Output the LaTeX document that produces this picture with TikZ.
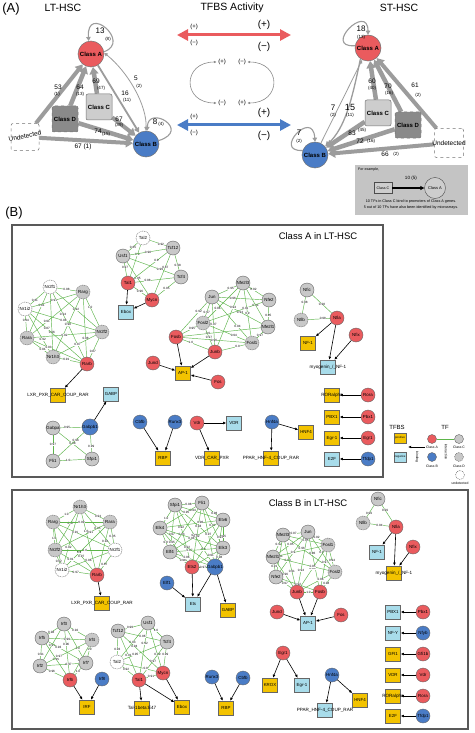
\documentclass[tikz,border=0pt]{standalone}
\usepackage{fontspec}
\setmainfont{Liberation Sans}
\usetikzlibrary{arrows.meta}
\pgfdeclarelayer{bglayer}
\pgfdeclarelayer{edgelayer}
\pgfsetlayers{bglayer,edgelayer,main}
\definecolor{cRed}{HTML}{EA5B5E}
\definecolor{cBlue}{HTML}{4A7CC6}
\definecolor{cGray}{HTML}{C8C8C8}
\definecolor{cLight}{HTML}{CDCDCD}
\definecolor{cDark}{HTML}{8A8A8A}
\definecolor{cYel}{HTML}{F3C300}
\definecolor{cLBlue}{HTML}{A8DCEA}
\definecolor{cGreen}{HTML}{5DB54A}
\definecolor{cArr}{HTML}{9C9C9C}
\definecolor{cExBg}{HTML}{C4C4C4}
\newcommand{\myfs}[1]{\fontsize{#1}{#1}\selectfont}
\begin{document}
\begin{tikzpicture}[x=1pt,y=-1pt,
  base/.style={circle, minimum size=14pt, inner sep=0pt, font=\myfs{4.4}, draw=black!60, line width=0.4pt},
  ca/.style={base, fill=cRed},
  cb/.style={base, fill=cBlue},
  cc/.style={base, fill=cGray},
  cd/.style={base, fill=cGray, dash pattern=on 1pt off 0.8pt},
  cu/.style={base, fill=white, dash pattern=on 1pt off 0.8pt},
  boxbase/.style={rectangle, minimum width=15pt, minimum height=14pt, inner sep=0pt, font=\myfs{4.4}, draw=black!60, line width=0.4pt},
  tp/.style={boxbase, fill=cYel},
  tn/.style={boxbase, fill=cLBlue},
  ppi/.style={draw=cGreen, line width=0.45pt},
  wl/.style={font=\myfs{3.1}, inner sep=0.15pt, fill=white},
  bind/.style={-{Latex[length=3.2pt,width=2.8pt]}, line width=0.6pt, black},
  lbl/.style={font=\myfs{4.6}, inner sep=0pt},
  clsA/.style={circle, minimum size=26pt, inner sep=0pt, draw=black!55, line width=0.5pt, font=\bfseries\myfs{6}, fill=cRed},
  clsB/.style={clsA, fill=cBlue},
  clsbox/.style={rectangle, rounded corners=2pt, minimum size=26pt, inner sep=0pt, draw=black!55, line width=0.5pt, font=\bfseries\myfs{6}},
  garr/.style={draw=cArr, -{Triangle[length=7pt,width=9pt]}},
  garr2/.style={draw=cArr, -{Triangle[length=5pt,width=5.5pt]}},
  gthin/.style={draw=cArr, line width=0.8pt},
  gloop/.style={draw=cArr, line width=1.1pt, -{Triangle[length=4pt,width=4.5pt]}},
  nl/.style={font=\myfs{6.5}, inner sep=0pt},
  nlb/.style={font=\myfs{8}, inner sep=0pt},
  pl/.style={font=\myfs{4.5}, inner sep=0pt},
  sp/.style={font=\myfs{6}, inner sep=0.5pt},
  bp/.style={font=\myfs{10}, inner sep=0pt},
  panel/.style={draw=black!65, line width=1.1pt},
  arcst/.style={draw=black!45, line width=0.6pt, {Latex[length=2.5pt,width=2.5pt]}-{Latex[length=2.5pt,width=2.5pt]}, shorten <=1pt, shorten >=1pt},
  dbl/.style={line width=3pt, {Triangle[length=11pt,width=11pt]}-{Triangle[length=11pt,width=11pt]}},
  lgc/.style={circle, minimum size=9pt, inner sep=0pt, draw=black!60, line width=0.4pt},
  lgt/.style={font=\myfs{3.4}, inner sep=0pt}
]
\begin{pgfonlayer}{bglayer}
\fill[white] (0,0) rectangle (474,733);
\end{pgfonlayer}
\useasboundingbox (0,0) rectangle (474,733);

% ---------------- Part A titles
\node[font=\myfs{13}] (tA) at (11,9) {(A)};
\node[font=\myfs{10.5}] (tLT) at (63,8) {LT-HSC};
\node[font=\myfs{10.5}] (tTF) at (232,8) {TFBS Activity};
\node[font=\myfs{10.5}] (tST) at (399,8) {ST-HSC};

% ---------------- LT-HSC
\node[clsA] (LA) at (91,54) {Class A};
\node[clsB] (LB) at (146,144) {Class B};
\node[clsbox, fill=cLight] (LC) at (99,107) {Class C};
\node[clsbox, fill=cDark, dashed] (LD) at (65,119) {Class D};
\node[clsbox, fill=white, dashed, minimum width=28pt, minimum height=27pt] (LU) at (25,137) {};
\node[font=\myfs{6.5}, rotate=12] (LUt) at (25,136) {Undetected};

\begin{pgfonlayer}{edgelayer}
\draw[garr, line width=4pt] (LU) -- (LA);
\draw[garr, line width=4.5pt] (LD) -- (LA);
\draw[garr, line width=4.5pt] (LC) -- (LA);
\draw[garr2, line width=1.8pt] (LA) -- (LB);
\draw[gthin, {Triangle[length=3.5pt,width=3.5pt]}-{Triangle[length=3.5pt,width=3.5pt]}] (LA.5) .. controls (128,72) and (147,105) .. (LB.north);
\draw[garr, line width=4pt] (LC) -- (LB);
\draw[garr, line width=4.5pt] (LD) -- (LB);
\draw[garr, line width=4pt] (LU) -- (LB);
\draw[gloop] (LA.10) .. controls (132,42) and (86,3) .. (LA.100);
\draw[gloop] (LB.15) .. controls (192,130) and (148,104) .. (LB.85);
\end{pgfonlayer}

\node[nl] (l53) at (58,87) {53}; \node[pl] (l53p) at (57,94) {(1)};
\node[nl] (l64) at (80,87) {64}; \node[pl] (l64p) at (80,94) {(13)};
\node[nl] (l69) at (96,81) {69}; \node[pl] (l69p) at (101,88) {(47)};
\node[nl] (l5) at (136,78) {5}; \node[pl] (l5p) at (139,86) {(2)};
\node[nl] (l16) at (125,93) {16}; \node[pl] (l16p) at (127,100) {(11)};
\node[nl] (l67) at (119,119) {67}; \node[pl] (l67p) at (119,125) {(39)};
\node[nl] (l74) at (98,131) {74}; \node[pl] (l74p) at (106,134) {(15)};
\node[nl] (l67b) at (83,147) {67 (1)};
\node[nlb] (l13) at (100,31) {13}; \node[pl] (l13p) at (108,39) {(8)};
\node[nlb] (l8) at (155,122) {8}; \node[pl] (l8p) at (161,124) {(4)};

% ---------------- TFBS activity
\coordinate (rL) at (177,35); \coordinate (rR) at (291,35);
\draw[dbl, draw=cRed] (rL) -- (rR);
\node[sp] (rp1) at (194,27) {(+)}; \node[sp] (rm1) at (194,43) {(−)};
\node[bp] (rp2) at (264,25) {(+)}; \node[bp] (rm2) at (264,47) {(−)};
\coordinate (bL) at (177,125); \coordinate (bR) at (291,125);
\draw[dbl, draw=cBlue] (bL) -- (bR);
\node[sp] (bp1) at (194,117) {(+)}; \node[sp] (bm1) at (194,133) {(−)};
\node[bp] (bp2) at (264,113) {(+)}; \node[bp] (bm2) at (264,136) {(−)};
\node[sp] (cp1) at (222,62) {(+)}; \node[sp] (cm1) at (242,62) {(−)};
\node[sp] (cm2) at (222,103) {(−)}; \node[sp] (cp2) at (242,103) {(+)};
\draw[arcst] (cp1.west) .. controls (182,62) and (182,103) .. (cm2.west);
\draw[arcst] (cm1.east) .. controls (282,62) and (282,103) .. (cp2.east);

% ---------------- ST-HSC
\node[clsA] (SA) at (368,48) {Class A};
\node[clsB] (SB) at (315,155) {Class B};
\node[clsbox, fill=cLight] (SC) at (378,113) {Class C};
\node[clsbox, fill=cDark, dashed] (SD) at (408,125) {Class D};
\node[clsbox, fill=white, dashed, minimum width=29pt, minimum height=29pt] (SU) at (449,143) {};
\node[font=\myfs{6.5}] (SUt) at (449,143) {Undetected};

\begin{pgfonlayer}{edgelayer}
\draw[garr, line width=4.5pt] (SC) -- (SA);
\draw[garr, line width=4.5pt] (SD) -- (SA);
\draw[garr, line width=4pt] (SU) -- (SA);
\draw[garr, line width=4.5pt] (SC) -- (SB);
\draw[garr, line width=4.5pt] (SD) -- (SB);
\draw[garr, line width=4pt] (SU) -- (SB);
\draw[gthin, -{Triangle[length=3.5pt,width=3.5pt]}] (SB) -- (SA);
\draw[garr2, line width=1.3pt] (SA.235) .. controls (352,100) and (345,128) .. (SB.40);
\draw[gloop] (SA.170) .. controls (322,48) and (368,2) .. (SA.north);
\draw[gloop] (SB.160) .. controls (272,152) and (313,108) .. (SB.north);
\end{pgfonlayer}

\node[nlb] (s18) at (361,29) {18}; \node[pl] (s18p) at (361,37) {(13)};
\node[nlb] (s7) at (333,108) {7}; \node[pl] (s7p) at (333,115) {(2)};
\node[font=\myfs{9}] (s15) at (350,107) {15}; \node[pl] (s15p) at (350,115) {(11)};
\node[nl] (s60) at (372,81) {60}; \node[pl] (s60p) at (372,88) {(40)};
\node[nl] (s70) at (388,86) {70}; \node[pl] (s70p) at (389,93) {(16)};
\node[nl] (s61) at (415,85) {61}; \node[pl] (s61p) at (418,95) {(2)};
\node[nl] (s83) at (352,133) {83}; \node[pl] (s83p) at (362,130) {(45)};
\node[nl] (s72) at (360,141) {72}; \node[pl] (s72p) at (371,141) {(16)};
\node[nl] (s66) at (385,154) {66}; \node[pl] (s66p) at (396,154) {(2)};
\node[nlb] (s7b) at (299,133) {7}; \node[pl] (s7bp) at (299,141) {(2)};

% ---------------- example box
\node[fill=cExBg, minimum width=113pt, minimum height=50pt, inner sep=0pt, anchor=north west] (exbox) at (355,165) {};
\node[font=\myfs{3.6}, anchor=west, inner sep=0pt] (exT) at (358,170) {For example,};
\node[rectangle, draw=black!70, fill=cLight, minimum width=18pt, minimum height=11pt, inner sep=0pt, font=\myfs{3.6}] (exC) at (383,188) {Class C};
\node[circle, draw=black!70, fill=cLight, minimum size=21pt, inner sep=0pt, font=\myfs{4}] (exA) at (435,188) {Class A};
\draw[-{Triangle[length=4pt,width=4pt]}, line width=1.1pt] (exC) -- (exA);
\node[font=\myfs{4.6}] (ex105) at (411,178) {10 (5)};
\node[font=\myfs{3.75}, inner sep=0pt] (ext1) at (411,202) {10 TFs in Class C bind to promoters of Class A genes.};
\node[font=\myfs{3.75}, inner sep=0pt] (ext2) at (411,207.5) {5 out of 10 TFs have also been identified by microarrays.};

% ---------------- Part B
\node[font=\myfs{13}] (tB) at (14,213) {(B)};
\draw[panel] (12,225) rectangle (383,477);
\draw[panel] (12,490) rectangle (468,729);
\node[font=\myfs{9.5}] (tCA) at (318,236) {Class A in LT-HSC};
\node[font=\myfs{9.5}] (tCB) at (308,503) {Class B in LT-HSC};

% ===== Class A panel nodes
\node[cu] (aNr2f1) at (50,287) {Nr2f1};
\node[cd] (aRarg) at (83,292) {Rarg};
\node[cu] (aNr1i2) at (25,309) {Nr1i2};
\node[cd] (aRara) at (27,338) {Rara};
\node[cd] (aNr2f2) at (102,332) {Nr2f2};
\node[cd] (aNr1h3) at (53,357) {Nr1h3};
\node[ca] (aRarb) at (87,364) {Rarb};
\node[tp] (aLXR) at (58,395) {};
\node[lbl] (aLXRt) at (58,395) {LXR\_PXR\_CAR\_COUP\_RAR};
\node[tn] (aGABP) at (111,394) {GABP};
\node[cc] (aGabpa) at (53,428) {Gabpa};
\node[cb] (aGabpb1) at (90,427) {Gabpb1};
\node[cc] (aFli1) at (53,461) {Fli1};
\node[cc] (aSfpi1) at (92,459) {Sfpi1};

\node[cu] (aTal2) at (143,238) {Tal2};
\node[cc] (aUsf1) at (123,256) {Usf1};
\node[cc] (aTcf12) at (173,248) {Tcf12};
\node[cc] (aTcf4) at (181,277) {Tcf4};
\node[ca] (aTal1) at (128,283) {Tal1};
\node[ca] (aMycn) at (152,300) {Mycn};
\node[tn] (aEbox) at (126,312) {Ebox};

\node[cc] (aJun) at (212,297) {Jun};
\node[cc] (aNfe2l3) at (243,283) {Nfe2l3};
\node[cc] (aNfe2) at (269,300) {Nfe2};
\node[cc] (aNfe2l1) at (268,327) {Nfe2l1};
\node[cd] (aFosl2) at (203,323) {Fosl2};
\node[cd] (aFosl1) at (252,343) {Fosl1};
\node[ca] (aFosb) at (176,337) {Fosb};
\node[ca] (aJunb) at (215,352) {Junb};
\node[ca] (aJund) at (153,363) {Jund};
\node[tp] (aAP1) at (183,373) {AP-1};
\node[ca] (aFos) at (218,382) {Fos};

\node[cc] (aNfic) at (307,290) {Nfic};
\node[cd] (aNfib) at (301,320) {Nfib};
\node[ca] (aNfia) at (337,318) {Nfia};
\node[tp] (aNF1) at (308,343) {NF-1};
\node[ca] (aNfix) at (356,335) {Nfix};
\node[tn] (amyo) at (328,367) {};
\node[lbl] (amyot) at (328,367) {myogenin\_/\_NF-1};

\node[tp] (aROR) at (332,395) {};
\node[lbl] (aRORt) at (332,395) {RORalpha};
\node[ca] (aRora) at (368,395) {Rora};
\node[tp] (aPBX1) at (332,417) {PBX1};
\node[ca] (aPbx1) at (368,417) {Pbx1};
\node[tp] (aEgrb) at (332,438) {Egr-1};
\node[ca] (aEgr1) at (368,438) {Egr1};
\node[tn] (aE2F) at (332,459) {E2F};
\node[cb] (aTfdp1) at (368,459) {Tfdp1};

\node[cb] (aCbfb) at (140,422) {Cbfb};
\node[cb] (aRunx3) at (175,422) {Runx3};
\node[tp] (aRBP) at (163,458) {RBP};
\node[ca] (aVdr) at (197,423) {Vdr};
\node[tn] (aVDR) at (234,423) {VDR};
\node[tp] (aVCP) at (212,458) {};
\node[lbl] (aVCPt) at (212,458) {VDR\_CAR\_PXR};
\node[cb] (aHnf4a) at (272,422) {Hnf4a};
\node[tp] (aHNF4) at (306,432) {HNF4};
\node[tp] (aPPAR) at (271,458) {};
\node[lbl] (aPPARt) at (271,458) {PPAR\_HNF-4\_COUP\_RAR};

\begin{pgfonlayer}{edgelayer}
\foreach \a/\b/\w [count=\i] in {aNr2f1/aRarg/0.98, aNr2f1/aNr1i2/0.81, aNr2f1/aRara/0.81, aNr2f1/aNr2f2/0.92, aNr2f1/aNr1h3/0.96, aNr2f1/aRarb/0.94,
  aRarg/aNr1i2/0.91, aRarg/aRara/0.91, aRarg/aNr2f2/1.0, aRarg/aNr1h3/0.98, aRarg/aRarb/0.98,
  aNr1i2/aRara/0.94, aNr1i2/aNr2f2/0.98, aNr1i2/aNr1h3/0.92, aNr1i2/aRarb/0.87,
  aRara/aNr2f2/0.92, aRara/aNr1h3/0.94, aRara/aRarb/0.93, aNr2f2/aNr1h3/0.87, aNr2f2/aRarb/0.87, aNr1h3/aRarb/0.91,
  aTal2/aUsf1/0.85, aTal2/aTcf12/0.92, aTal2/aTal1/0.9, aUsf1/aTcf12/0.98, aUsf1/aTcf4/0.99, aUsf1/aTal1/0.97, aUsf1/aMycn/0.95,
  aTal1/aTcf12/0.9, aTal1/aTcf4/0.98, aTal1/aMycn/0.96, aTcf12/aTcf4/0.98, aTcf12/aMycn/0.87, aTcf4/aMycn/0.95,
  aJun/aNfe2l3/0.95, aJun/aNfe2/0.96, aJun/aNfe2l1/0.94, aJun/aFosl2/0.97, aJun/aFosb/0.92, aJun/aJunb/0.97, aJun/aFosl1/0.94,
  aNfe2l3/aNfe2/0.92, aNfe2l3/aNfe2l1/0.94, aNfe2l3/aFosl2/0.96, aNfe2l3/aJunb/0.94, aNfe2l3/aFosl1/0.9,
  aNfe2/aNfe2l1/0.95, aNfe2/aFosl2/0.91, aNfe2l1/aFosl1/0.97, aNfe2l1/aFosb/0.9,
  aFosl2/aFosb/0.95, aFosl2/aJunb/0.97, aFosl2/aFosl1/0.94, aFosb/aJunb/1.0, aFosb/aFosl1/0.96, aJunb/aFosl1/0.9,
  aNfic/aNfib/0.98, aNfic/aNfia/0.98, aNfib/aNfia/0.98,
  aGabpa/aGabpb1/0.95, aGabpa/aFli1/0.97, aGabpb1/aSfpi1/0.99, aFli1/aSfpi1/1.0, aGabpa/aSfpi1/0.98, aFli1/aGabpb1/0.96}
  {\pgfmathsetmacro{\pp}{0.32+0.18*mod(\i,3)}
   \draw[ppi] (\a) -- node[wl, pos=\pp]{\w} (\b);}
\end{pgfonlayer}

\foreach \a/\b in {aRarb/aLXR, aGabpb1/aGABP, aTal1/aEbox, aMycn/aEbox, aFosb/aAP1, aJunb/aAP1, aJund/aAP1, aFos/aAP1,
  aNfia/aNF1, aNfia/amyo, aNfix/amyo, aRora/aROR, aPbx1/aPBX1, aEgr1/aEgrb, aTfdp1/aE2F,
  aCbfb/aRBP, aRunx3/aRBP, aVdr/aVDR, aVdr/aVCP, aHnf4a/aHNF4, aHnf4a/aPPAR}
  \draw[bind] (\a) -- (\b);

% ===== Legend
\node[font=\myfs{6}] (lgTFBS) at (397,427) {TFBS};
\node[font=\myfs{6}] (lgTF) at (445,427) {TF};
\node[tp, minimum width=12pt, minimum height=10pt] (lgPos) at (400,438) {};
\node[font=\myfs{2.9}, inner sep=0pt] (lgPost) at (400,438) {positive};
\node[tn, minimum width=12pt, minimum height=10pt] (lgNeg) at (400,457) {};
\node[font=\myfs{2.9}, inner sep=0pt] (lgNegt) at (400,457) {negative};
\coordinate (lgBs) at (425,447); \coordinate (lgBe) at (408,447);
\draw[bind, line width=0.9pt] (lgBs) -- (lgBe);
\node[lgt, rotate=-90] (lgBind) at (417,457) {binding};
\node[lgc, fill=cRed] (lgA) at (432,439) {};
\node[lgc, fill=cGray] (lgC) at (459,439) {};
\draw[ppi, line width=0.9pt] (lgA) -- (lgC);
\node[lgt] (lgAt) at (432,447.5) {Class A};
\node[lgt] (lgCt) at (459,447.5) {Class C};
\node[lgt, rotate=-90] (lgInt) at (446,452) {interaction};
\node[lgc, fill=cBlue] (lgB) at (432,457) {};
\node[lgc, fill=cGray, dash pattern=on 1pt off 0.8pt] (lgD) at (459,457) {};
\node[lgt] (lgBt) at (432,466) {Class B};
\node[lgt] (lgDt) at (459,466) {Class D};
\node[lgc, fill=white, dash pattern=on 1pt off 0.8pt] (lgU) at (460,475) {};
\node[lgt] (lgUt) at (460,483) {undetected};

% ===== Class B panel nodes
\node[cd] (bNr1h3) at (80,507) {Nr1h3};
\node[cd] (bRarg) at (53,522) {Rarg};
\node[cd] (bRara) at (110,522) {Rara};
\node[cd] (bNr2f2) at (55,550) {Nr2f2};
\node[cu] (bNr2f1) at (115,550) {Nr2f1};
\node[cu] (bNr1i2) at (62,570) {Nr1i2};
\node[ca] (bRarb) at (97,575) {Rarb};
\node[tp] (bLXR) at (102,603) {};
\node[lbl] (bLXRt) at (102,603) {LXR\_PXR\_CAR\_COUP\_RAR};

\node[cc] (bSfpi1) at (175,505) {Sfpi1};
\node[cc] (bFli1) at (202,503) {Fli1};
\node[cc] (bEtv6) at (223,520) {Etv6};
\node[cc] (bElk3) at (223,548) {Elk3};
\node[cc] (bElk4) at (160,528) {Elk4};
\node[cc] (bElf4) at (170,552) {Elf4};
\node[ca] (bEts2) at (192,567) {Ets2};
\node[cb] (bGabpb1) at (215,567) {Gabpb1};
\node[cb] (bElf1) at (167,583) {Elf1};
\node[tn] (bEts) at (193,604) {Ets};
\node[tp] (bGABP) at (228,610) {GABP};

\node[cc] (bJun) at (308,532) {Jun};
\node[cc] (bNfe2l3) at (283,535) {Nfe2l3};
\node[cd] (bFosl1) at (328,545) {Fosl1};
\node[cc] (bNfe2l1) at (273,557) {Nfe2l1};
\node[cc] (bNfe2) at (276,577) {Nfe2};
\node[cd] (bFosl2) at (335,572) {Fosl2};
\node[ca] (bJunb) at (297,592) {Junb};
\node[ca] (bFosb) at (320,592) {Fosb};
\node[ca] (bJund) at (277,612) {Jund};
\node[ca] (bFos) at (341,615) {Fos};
\node[tn] (bAP1) at (308,623) {AP-1};

\node[cc] (bNfic) at (378,499) {Nfic};
\node[cd] (bNfib) at (363,523) {Nfib};
\node[ca] (bNfia) at (396,527) {Nfia};
\node[tn] (bNF1) at (377,552) {NF-1};
\node[ca] (bNfix) at (413,547) {Nfix};
\node[tp] (bmyo) at (394,573) {};
\node[lbl] (bmyot) at (394,573) {myogenin\_/\_NF-1};

\node[cc] (bIrf3) at (64,624) {Irf3};
\node[cc] (bIrf5) at (42,638) {Irf5};
\node[cd] (bIrf4) at (92,640) {Irf4};
\node[cc] (bIrf2) at (40,666) {Irf2};
\node[cc] (bIrf7) at (86,663) {Irf7};
\node[ca] (bIrf6) at (70,680) {Irf6};
\node[cb] (bIrf8) at (102,679) {Irf8};
\node[tp] (bIRF) at (87,707) {IRF};

\node[cc] (bUsf1) at (148,623) {Usf1};
\node[cc] (bTcf12) at (118,631) {Tcf12};
\node[cc] (bTcf4) at (167,642) {Tcf4};
\node[cu] (bTal2) at (117,662) {Tal2};
\node[ca] (bMycn) at (163,673) {Mycn};
\node[ca] (bTal1) at (139,680) {Tal1};
\node[tp] (bTalE) at (142,708) {};
\node[lbl] (bTalEt) at (142,708) {Tal-1beta:E47};
\node[tp] (bEbox) at (182,707) {Ebox};

\node[cb] (bRunx3) at (212,677) {Runx3};
\node[cb] (bCbfb) at (243,678) {Cbfb};
\node[tp] (bRBP) at (226,708) {RBP};

\node[ca] (bEgr1) at (283,653) {Egr1};
\node[tp] (bKROX) at (270,685) {KROX};
\node[tn] (bEgrb) at (302,685) {Egr-1};
\node[cb] (bHnf4a) at (332,675) {Hnf4a};
\node[tp] (bHNF4) at (360,700) {HNF4};
\node[tn] (bPPAR) at (325,710) {};
\node[lbl] (bPPARt) at (325,710) {PPAR\_HNF-4\_COUP\_RAR};

\node[tn] (bPBX1) at (393,612) {PBX1}; \node[ca] (bPbx1) at (423,612) {Pbx1};
\node[tn] (bNFY) at (393,633) {NF-Y}; \node[cb] (bNfyb) at (423,633) {Nfyb};
\node[tp] (bGFI1) at (393,654) {GFI1}; \node[ca] (bGfi1b) at (423,654) {Gfi1b};
\node[tp] (bVDR) at (393,675) {VDR}; \node[ca] (bVdr) at (423,675) {Vdr};
\node[tp] (bROR) at (393,696) {};
\node[lbl] (bRORt) at (393,696) {RORalpha};
\node[ca] (bRora) at (423,696) {Rora};
\node[tp] (bE2F) at (393,716) {E2F}; \node[cb] (bTfdp1) at (423,716) {Tfdp1};

\begin{pgfonlayer}{edgelayer}
\foreach \a/\b/\w [count=\i] in {bNr1h3/bRarg/1.0, bNr1h3/bRara/0.94, bNr1h3/bNr2f2/0.97, bNr1h3/bNr2f1/0.95, bNr1h3/bNr1i2/0.92, bNr1h3/bRarb/1.0,
  bRarg/bRara/0.99, bRarg/bNr2f2/1.0, bRarg/bNr2f1/0.91, bRarg/bNr1i2/0.87, bRarg/bRarb/0.97,
  bRara/bNr2f2/0.91, bRara/bNr2f1/0.95, bRara/bNr1i2/0.9, bRara/bRarb/0.94,
  bNr2f2/bNr2f1/1.0, bNr2f2/bNr1i2/0.92, bNr2f2/bRarb/0.91, bNr2f1/bNr1i2/0.96, bNr2f1/bRarb/0.87, bNr1i2/bRarb/0.97,
  bSfpi1/bFli1/0.98, bSfpi1/bElk4/1.0, bSfpi1/bEtv6/0.94, bSfpi1/bElk3/0.9, bSfpi1/bElf4/0.97, bSfpi1/bEts2/0.92, bSfpi1/bGabpb1/0.96,
  bFli1/bEtv6/0.98, bFli1/bElk4/0.95, bFli1/bElk3/0.91, bFli1/bElf4/0.93, bFli1/bEts2/0.94, bFli1/bGabpb1/0.97,
  bEtv6/bElk3/0.95, bEtv6/bElk4/0.96, bEtv6/bElf4/0.92, bEtv6/bEts2/0.9, bEtv6/bGabpb1/0.93,
  bElk3/bElk4/0.94, bElk3/bElf4/0.97, bElk3/bEts2/0.91, bElk3/bGabpb1/0.98,
  bElk4/bElf4/0.9, bElk4/bEts2/0.95, bElk4/bGabpb1/0.92, bElf4/bEts2/0.98, bElf4/bGabpb1/0.96, bEts2/bGabpb1/0.97,
  bJun/bNfe2l3/0.97, bJun/bFosl1/0.92, bJun/bNfe2l1/0.95, bJun/bJunb/0.94, bJun/bFosb/0.96, bJun/bFosl2/0.9, bJun/bNfe2/0.93,
  bNfe2l3/bNfe2l1/0.92, bNfe2l3/bFosl1/0.95, bNfe2l3/bJunb/0.91, bNfe2l3/bFosl2/0.96, bNfe2l3/bNfe2/0.94,
  bFosl1/bFosl2/0.94, bFosl1/bFosb/0.97, bFosl1/bJunb/0.93, bFosl1/bNfe2l1/0.9,
  bNfe2l1/bNfe2/0.91, bNfe2l1/bJunb/0.96, bNfe2l1/bFosl2/0.95, bNfe2/bJunb/0.97, bNfe2/bFosb/0.92,
  bFosl2/bFosb/0.98, bFosl2/bJunb/0.96, bJunb/bFosb/1.0,
  bNfic/bNfib/0.99, bNfic/bNfia/0.99, bNfib/bNfia/0.94,
  bIrf3/bIrf5/0.98, bIrf3/bIrf4/0.92, bIrf3/bIrf2/0.91, bIrf3/bIrf7/1.0, bIrf3/bIrf6/0.96,
  bIrf5/bIrf4/0.99, bIrf5/bIrf2/0.91, bIrf5/bIrf7/0.93, bIrf5/bIrf6/0.95,
  bIrf4/bIrf2/0.97, bIrf4/bIrf7/1.0, bIrf4/bIrf6/0.94, bIrf2/bIrf7/0.97, bIrf2/bIrf6/0.96, bIrf7/bIrf6/1.0,
  bUsf1/bTcf12/0.99, bUsf1/bTcf4/1.0, bUsf1/bTal2/0.93, bUsf1/bMycn/0.99, bUsf1/bTal1/0.92,
  bTcf12/bTcf4/0.96, bTcf12/bTal2/0.93, bTcf12/bMycn/0.94, bTcf12/bTal1/0.91,
  bTcf4/bTal2/0.95, bTcf4/bMycn/0.99, bTcf4/bTal1/0.97, bTal2/bMycn/0.9, bTal2/bTal1/0.92, bMycn/bTal1/0.91}
  {\pgfmathsetmacro{\pp}{0.32+0.18*mod(\i,3)}
   \draw[ppi] (\a) -- node[wl, pos=\pp]{\w} (\b);}
\end{pgfonlayer}

\foreach \a/\b in {bRarb/bLXR, bEts2/bEts, bGabpb1/bEts, bElf1/bEts, bGabpb1/bGABP,
  bNfia/bNF1, bNfia/bmyo, bNfix/bmyo, bJunb/bAP1, bFosb/bAP1, bJund/bAP1, bFos/bAP1,
  bIrf6/bIRF, bIrf8/bIRF, bTal1/bTalE, bTal1/bEbox, bMycn/bEbox, bRunx3/bRBP, bCbfb/bRBP,
  bEgr1/bKROX, bEgr1/bEgrb, bHnf4a/bHNF4, bHnf4a/bPPAR,
  bPbx1/bPBX1, bNfyb/bNFY, bGfi1b/bGFI1, bVdr/bVDR, bRora/bROR, bTfdp1/bE2F}
  \draw[bind] (\a) -- (\b);
\end{tikzpicture}
\end{document}
